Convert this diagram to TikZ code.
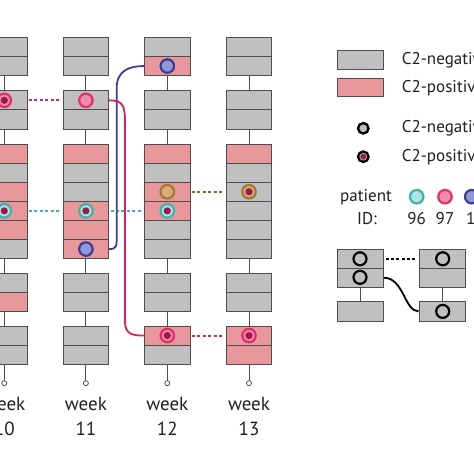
\documentclass[tikz,border=0pt]{standalone}
\usepackage{fontspec}
\setmainfont{PT Sans}
\definecolor{boxg}{HTML}{C1C0C1}
\definecolor{boxp}{HTML}{E8989A}
\definecolor{boxline}{HTML}{4D4D4D}
\definecolor{pinko}{HTML}{E0306A}
\definecolor{pinkf}{HTML}{F08CAA}
\definecolor{dotc}{HTML}{9B1A4D}
\definecolor{tealo}{HTML}{3DB5AE}
\definecolor{tealf}{HTML}{B4E2E2}
\definecolor{blueo}{HTML}{3B3F8F}
\definecolor{bluef}{HTML}{8F99D9}
\definecolor{browno}{HTML}{A8762F}
\definecolor{brownf}{HTML}{D9AE7E}
\definecolor{pinkl}{HTML}{D9245E}
\definecolor{bluel}{HTML}{3A428C}
\definecolor{txt}{HTML}{231F20}
\begin{document}
\begin{tikzpicture}[x=1pt,y=-1pt,
  cell/.style={rectangle,draw=boxline,line width=0.9pt,minimum width=45.6pt,minimum height=19.1pt,inner sep=0pt},
  stem/.style={draw=boxline,line width=0.9pt},
  tip/.style={circle,draw=boxline,fill=white,line width=0.8pt,minimum size=5pt,inner sep=0pt},
  dot/.style={circle,line width=2.2pt,minimum size=13.5pt,inner sep=0pt},
  withdot/.style={path picture={\fill[dotc] (path picture bounding box.center) circle (3.6pt);}},
  pinkdot/.style={dot,draw=pinko,fill=pinkf},
  tealdot/.style={dot,draw=tealo,fill=tealf},
  bluedot/.style={dot,draw=blueo,fill=bluef},
  browndot/.style={dot,draw=browno,fill=brownf},
  link/.style={line width=2pt,dash pattern=on 3pt off 2.4pt,shorten <=1.5pt,shorten >=1.5pt},
  curve/.style={line width=1.8pt},
  lbl/.style={font=\fontsize{19}{19}\selectfont,text=txt,inner sep=0pt},
  ltx/.style={font=\fontsize{17}{17}\selectfont,text=txt,inner sep=0pt},
  legcirc/.style={circle,draw=black,fill=boxg,line width=2.3pt,minimum size=10.5pt,inner sep=0pt},
  schcirc/.style={circle,draw=black,fill=boxg,line width=2.2pt,minimum size=13pt,inner sep=0pt},
  legbox/.style={rectangle,draw=boxline,line width=0.9pt,minimum width=46pt,minimum height=18.8pt,inner sep=0pt}
]
\useasboundingbox (0,0) rectangle (474,474);
\clip (0,0) rectangle (474,474);
\fill[white] (0,0) rectangle (474,474);

% columns
\foreach \c/\x/\cols/\wk in {A/4.3/{g,g,g,g,p,g,p,p,p,g,g,p,g,g}/10,
                              B/85.9/{g,g,g,g,p,g,g,p,p,p,g,g,g,g}/11,
                              C/167.3/{g,p,g,g,p,g,p,p,g,g,g,g,p,g}/12,
                              D/249.0/{g,g,g,g,p,g,g,g,g,g,g,g,p,p}/13}{
  \draw[stem] (\x,75) -- (\x,91);
  \draw[stem] (\x,129) -- (\x,144);
  \draw[stem] (\x,258) -- (\x,274);
  \draw[stem] (\x,311) -- (\x,326);
  \draw[stem] (\x,364) -- (\x,381);
  \node[tip] (\c-tip) at (\x,383.2) {};
  \foreach \r [count=\i] in \cols {
    \pgfmathsetmacro\yy{{46.95,66.05,100.35,119.45,153.55,172.65,191.75,210.85,229.95,249.05,282.85,301.95,335.55,354.65}[\i-1]}
    \node[cell,fill=box\r] (\c-\i) at (\x,\yy) {};
  }
  \node[lbl] (\c-wk) at (\x,404) {week};
  \node[lbl] (\c-num) at (\x,429) {\wk};
}

% cell markers
\node[pinkdot,withdot] (pA) at (A-3) {};
\node[pinkdot] (pB) at (B-3) {};
\node[tealdot,withdot] (tA) at (A-8) {};
\node[tealdot,withdot] (tB) at (B-8) {};
\node[tealdot,withdot] (tC) at (C-8) {};
\node[bluedot] (bB) at (B-10) {};
\node[bluedot] (bC) at (C-2) {};
\node[browndot] (rC) at (C-7) {};
\node[browndot,withdot] (rD) at (D-7) {};
\node[pinkdot,withdot] (pC) at (C-13) {};
\node[pinkdot,withdot] (pD) at (D-13) {};

% links
\draw[link,pinkl] (A-3.east) -- (B-3.west);
\draw[link,pinkl] (C-13.east) -- (D-13.west);
\draw[link,tealo] (A-8.east) -- (B-8.west);
\draw[link,tealo] (B-8.east) -- (C-8.west);
\draw[link,browno!85!black] (C-7.east) -- (D-7.west);
\draw[curve,bluel] (B-10.east) .. controls +(8,0) and +(0,12) .. (116.7,234) -- (116.7,88) .. controls +(0,-18) and +(-14,0) .. (C-2.west);
\draw[curve,pinkl] (B-3.east) .. controls +(14,0) and +(0,-16) .. (125,122) -- (125,322) .. controls +(0,13) and +(-10,0) .. (C-13.west);

% legend
\node[legbox,fill=boxg] (lg) at (360.3,60) {};
\node[legbox,fill=boxp] (lp) at (360.3,87.5) {};
\node[ltx,anchor=west] (lgt) at (401.7,60) {C2-negative};
\node[ltx,anchor=west] (lpt) at (401.7,88) {C2-positive};
\node[legcirc] (cg) at (363.3,128.3) {};
\node[legcirc,withdot,path picture={\fill[dotc] (path picture bounding box.center) circle (3pt);}] (cp) at (363.3,156.7) {};
\node[ltx,anchor=west] (cgt) at (401.7,128.3) {C2-negative};
\node[ltx,anchor=west] (cpt) at (401.7,156.7) {C2-positive};
\node[ltx] (pat) at (366,196.7) {patient};
\node[ltx] (pid) at (367,218.5) {ID:};
\node[tealdot] (l96) at (416.7,196.7) {};
\node[pinkdot] (l97) at (445,196.7) {};
\node[bluedot] (l1x) at (471.7,196.7) {};
\node[ltx] (n96) at (416.7,218.5) {96};
\node[ltx] (n97) at (445,218.5) {97};
\node[ltx,anchor=west] (n1x) at (466,218.5) {10};

% schematic legend
\draw[stem] (360.3,287) -- (360.3,302);
\draw[stem] (442,287) -- (442,302);
\node[legbox,minimum height=19.1pt,fill=boxg] (L1) at (360.3,258.65) {};
\node[legbox,minimum height=19.1pt,fill=boxg] (L2) at (360.3,277.75) {};
\node[legbox,minimum height=19.3pt,fill=boxg] (L3) at (360.3,311.4) {};
\node[legbox,minimum height=19.1pt,fill=boxg] (R1) at (442,258.65) {};
\node[legbox,minimum height=19.1pt,fill=boxg] (R2) at (442,277.75) {};
\node[legbox,minimum height=19.3pt,fill=boxg] (R3) at (442,311.4) {};
\node[schcirc] (Lc1) at (360,258.8) {};
\node[schcirc] (Lc2) at (360,277.3) {};
\node[schcirc] (Rc1) at (442.7,258.8) {};
\node[schcirc] (Rc3) at (442.7,311.4) {};
\draw[black,line width=2pt,dash pattern=on 3pt off 2.3pt,shorten <=2pt,shorten >=2pt] (L1.east) -- (R1.west);
\draw[black,line width=1.8pt] (L2.east) .. controls +(20,0) and +(-14,0) .. (R3.west);
\end{tikzpicture}
\end{document}
